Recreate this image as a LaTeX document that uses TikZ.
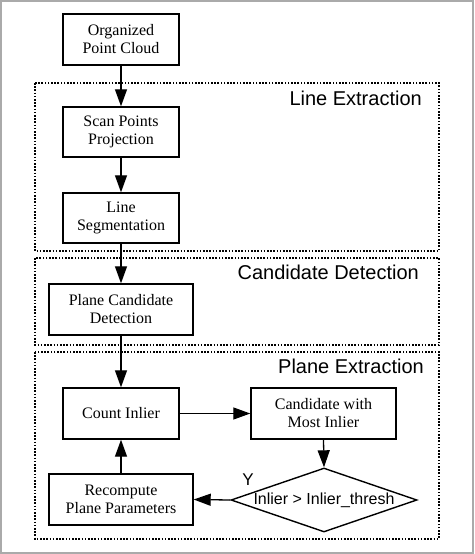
\documentclass[tikz,border=0pt]{standalone}
\usepackage{fontspec}
\setmainfont{Liberation Serif}
\setsansfont{Liberation Sans}
\usetikzlibrary{shapes.geometric,arrows.meta}
\begin{document}
\begin{tikzpicture}[x=1pt,y=-1pt,
  procbox/.style={draw, line width=1.4pt, align=center, inner sep=0pt,
     font=\fontsize{16}{18}\selectfont},
  region/.style={draw, line width=1.3pt, dash pattern=on 1.6pt off 1.6pt},
  regionlabel/.style={anchor=east, inner sep=0pt, font=\sffamily\fontsize{20}{22}\selectfont},
  flow/.style={line width=1.3pt, -{Triangle[length=17pt,width=12pt]}}]
\useasboundingbox (0,0) rectangle (474,554);
\draw[line width=2pt, color={rgb,255:red,170;green,170;blue,170}] (1,1) rectangle (473,553);
% regions
\draw[region] (35,83) rectangle (439,251);
\draw[region] (35,258) rectangle (439,345);
\draw[region] (35,352) rectangle (439,539);
\node[regionlabel] (le) at (422,98) {Line Extraction};
\node[regionlabel] (cdl) at (419,272) {Candidate Detection};
\node[regionlabel] (pel) at (424,366) {Plane Extraction};
% boxes
\node[procbox, minimum width=116pt, minimum height=51pt] (oc) at (121,39.5) {Organized\\Point Cloud};
\node[procbox, minimum width=116pt, minimum height=50pt] (sp) at (121,132) {Scan Points\\Projection};
\node[procbox, minimum width=116pt, minimum height=50pt] (ls) at (121,218) {Line\\Segmentation};
\node[procbox, minimum width=144pt, minimum height=51pt] (pc) at (121,309.5) {Plane Candidate\\Detection};
\node[procbox, minimum width=116pt, minimum height=51pt] (ci) at (121,413.5) {Count Inlier};
\node[procbox, minimum width=145pt, minimum height=51pt] (cm) at (323.5,413.5) {Candidate with\\Most Inlier};
\node[draw, line width=1.4pt, diamond, aspect=2.9, inner sep=0pt,
  minimum width=186pt, minimum height=64pt,
  font=\sffamily\fontsize{16}{18}\selectfont] (dia) at (324,500) {Inlier > Inlier\_thresh};
\node[procbox, minimum width=144pt, minimum height=51pt] (rp) at (121,499.5) {Recompute\\Plane Parameters};
\node[inner sep=0pt, font=\sffamily\fontsize{17}{19}\selectfont] (y) at (248,480) {Y};
% arrows
\draw[flow] (oc.south) -- (sp.north);
\draw[flow] (sp.south) -- (ls.north);
\draw[flow] (ls.south) -- (pc.north);
\draw[flow] (pc.south) -- (ci.north);
\draw[flow] (ci.east) -- (cm.west);
\draw[flow] (cm.south) -- (dia.north);
\draw[flow] (dia.west) -- (rp.east);
\draw[flow] (rp.north) -- (ci.south);
\end{tikzpicture}
\end{document}
